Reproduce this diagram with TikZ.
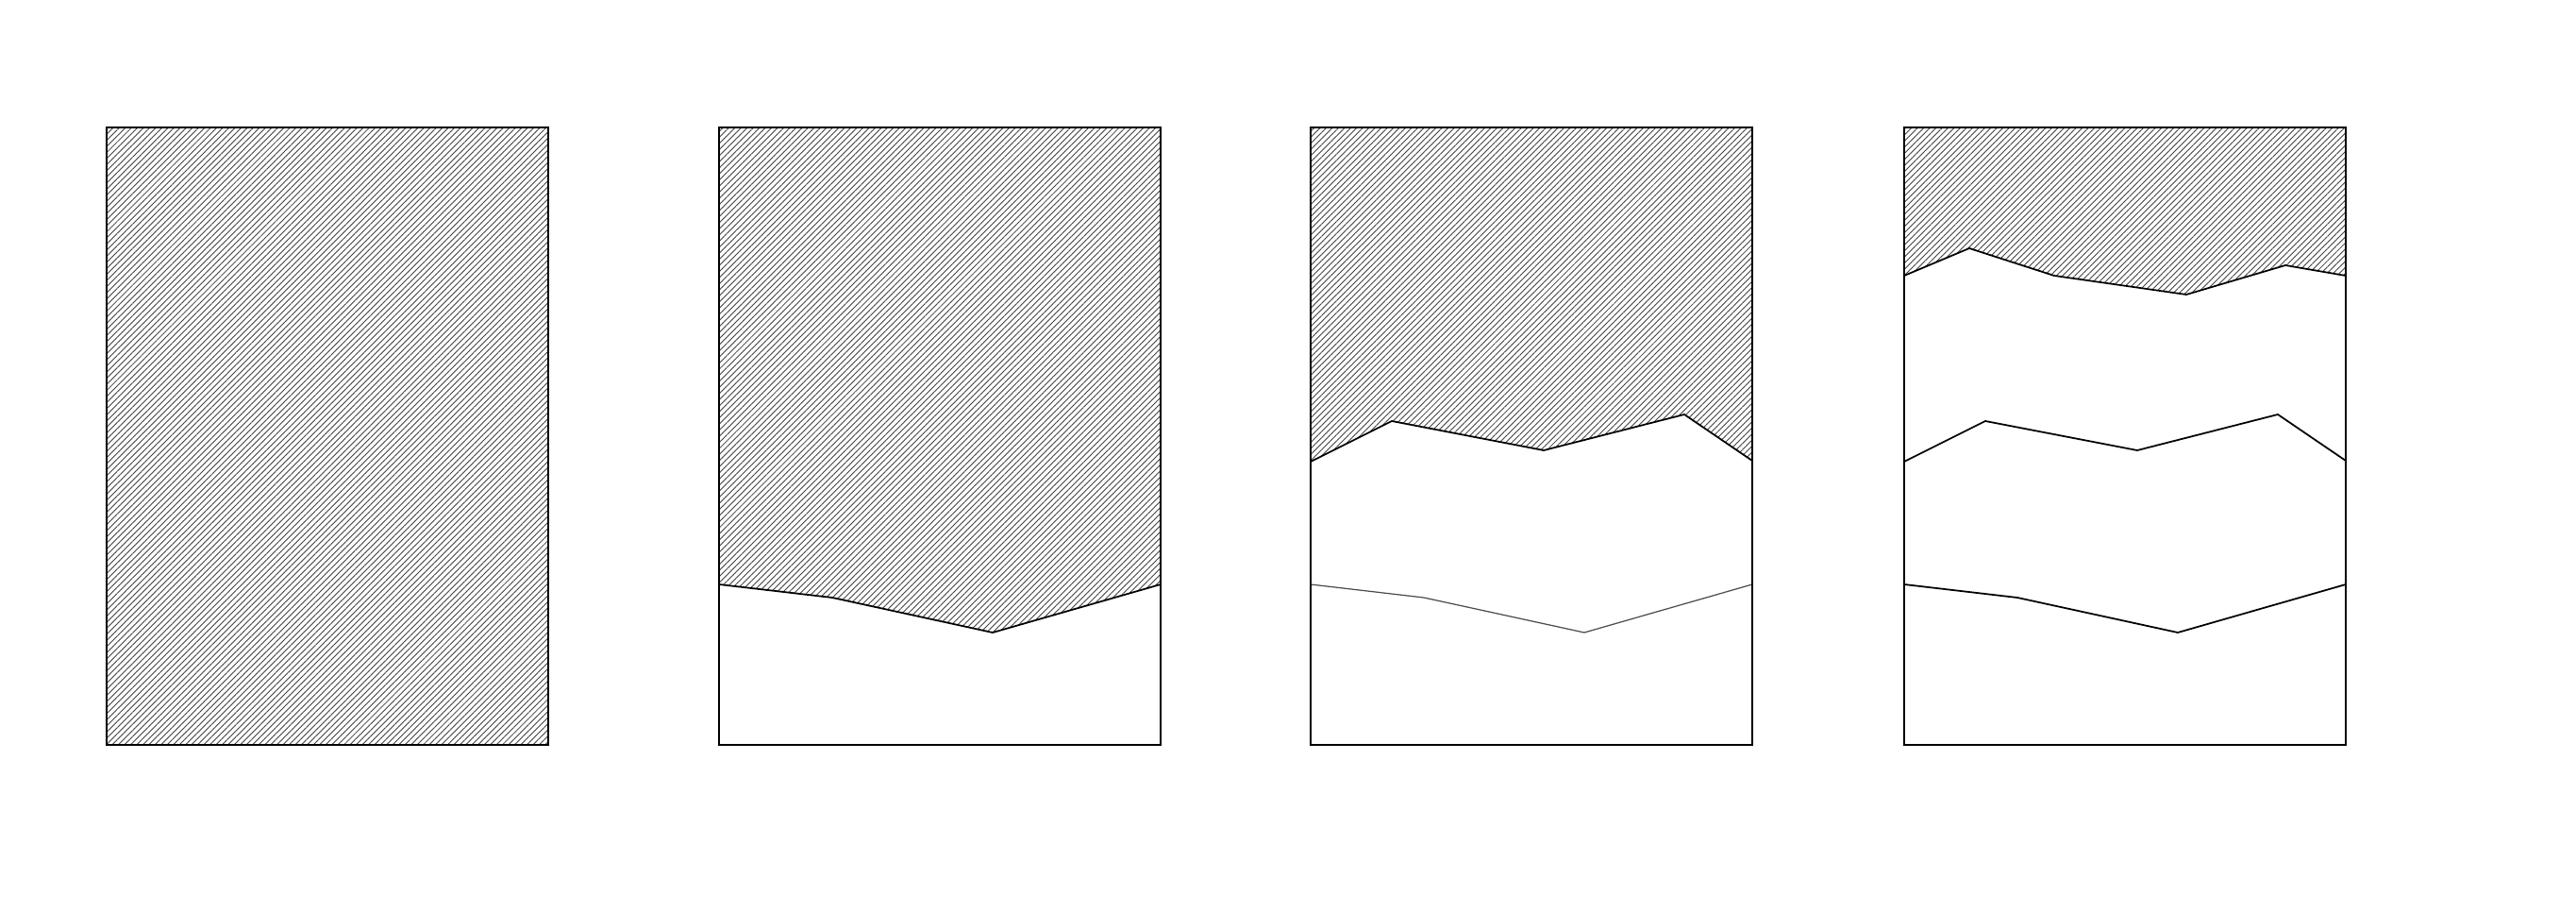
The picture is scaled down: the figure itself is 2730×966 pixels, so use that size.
\documentclass[tikz,border=0pt]{standalone}
\usetikzlibrary{patterns.meta}

\begin{document}
\begin{tikzpicture}[
        x=0.1mm, y=-0.1mm,
        frameLine/.style={draw, line width=0.45pt},
        hatchFill/.style={pattern={Lines[angle=45, distance=1.3pt, line width=0.25pt]}, pattern color=black!75},
        crackLine/.style={draw, line width=0.5pt, line join=round},
        faintLine/.style={draw, line width=0.35pt, black!70, line join=round}
    ]
        % Page size
        \useasboundingbox (0,0) rectangle (2730,966);

        % Panel 1: all hatched
        \begin{scope}[shift={(113,0)}]
            \fill[hatchFill] (0,135) rectangle (468,789);
            \draw[frameLine] (0,135) rectangle (468,789);
        \end{scope}

        % Panel 2: lower band cleared
        \begin{scope}[shift={(762,0)}]
            \fill[hatchFill] (0,135) -- (468,135) -- (468,619) -- (290,670) -- (120,633) -- (0,619) -- cycle;
            \draw[crackLine] (0,619) -- (120,633) -- (290,670) -- (468,619);
            \draw[frameLine] (0,135) rectangle (468,789);
        \end{scope}

        % Panel 3: middle band cleared
        \begin{scope}[shift={(1389,0)}]
            \fill[hatchFill] (0,135) -- (468,135) -- (468,488) -- (396,439) -- (247,477) -- (86,446) -- (0,489) -- cycle;
            \draw[crackLine] (0,489) -- (86,446) -- (247,477) -- (396,439) -- (468,488);
            \draw[faintLine] (0,619) -- (120,633) -- (290,670) -- (468,619);
            \draw[frameLine] (0,135) rectangle (468,789);
        \end{scope}

        % Panel 4: upper band cleared
        \begin{scope}[shift={(2018,0)}]
            \fill[hatchFill] (0,135) -- (468,135) -- (468,292) -- (404,281) -- (299,312) -- (159,292) -- (69,263) -- (0,292) -- cycle;
            \draw[crackLine] (0,292) -- (69,263) -- (159,292) -- (299,312) -- (404,281) -- (468,292);
            \draw[crackLine] (0,489) -- (86,446) -- (247,477) -- (396,439) -- (468,488);
            \draw[crackLine] (0,619) -- (120,633) -- (290,670) -- (468,619);
            \draw[frameLine] (0,135) rectangle (468,789);
        \end{scope}
    \end{tikzpicture}
\end{document}
